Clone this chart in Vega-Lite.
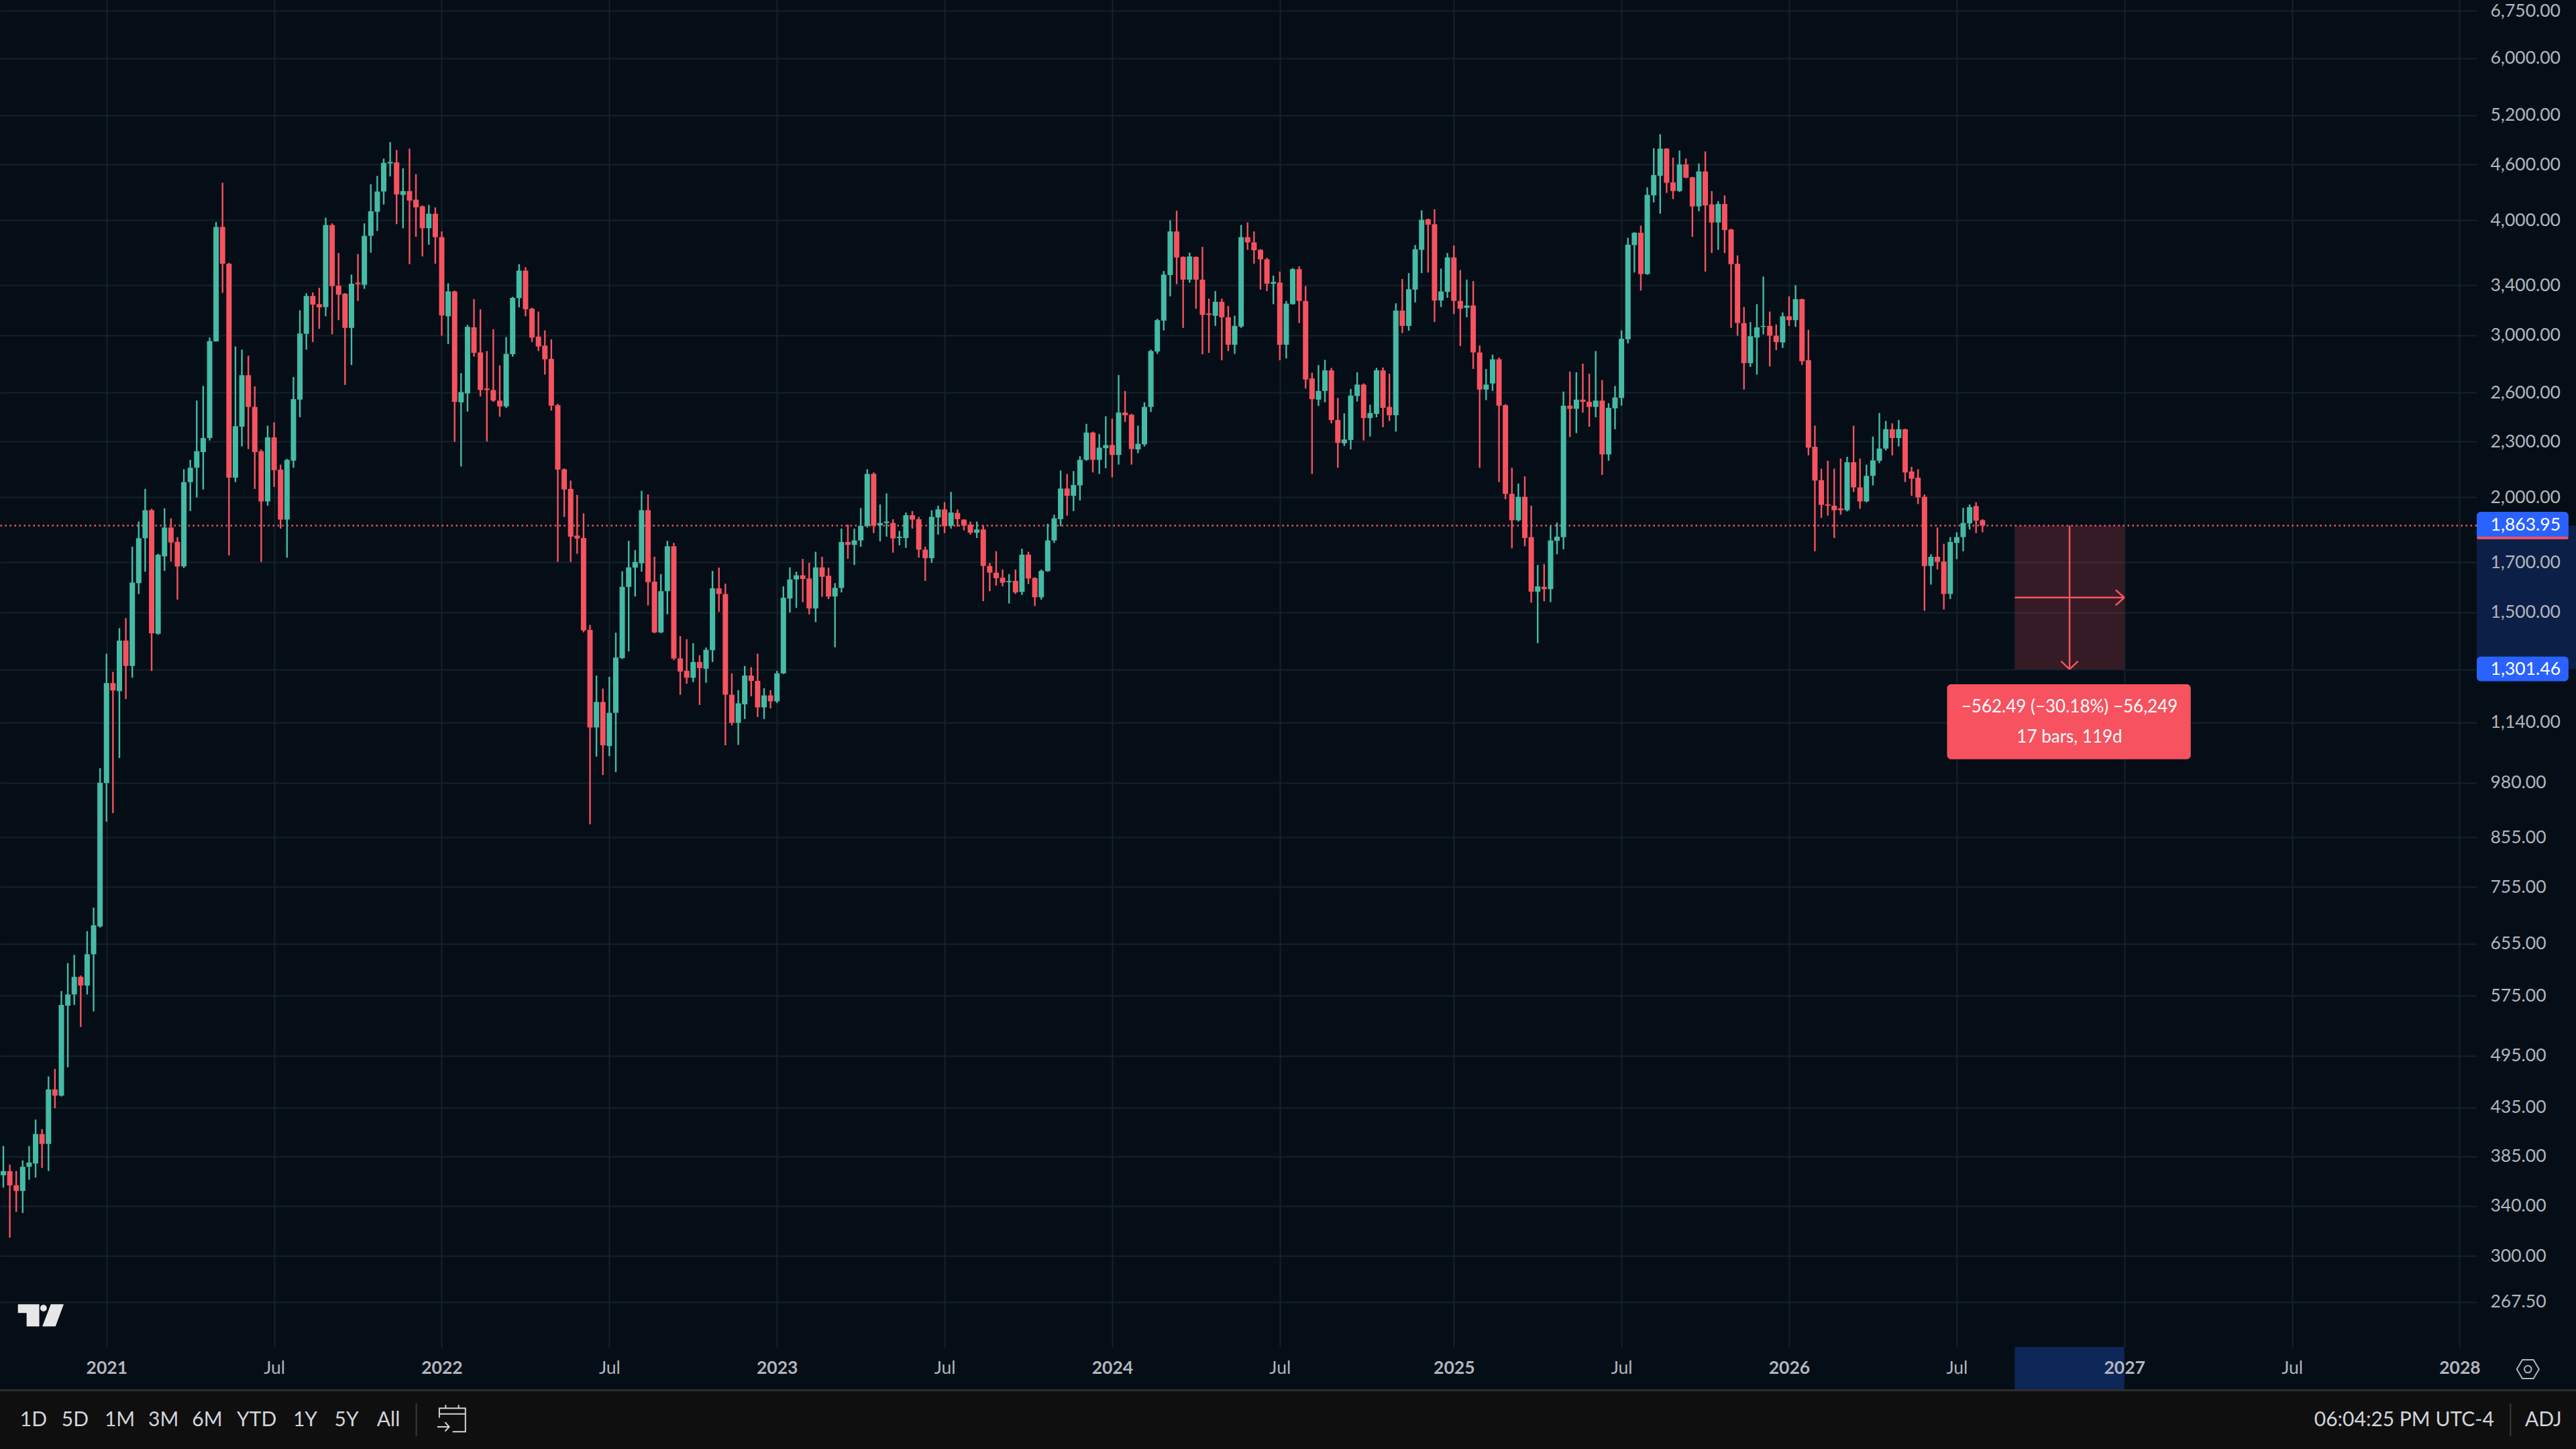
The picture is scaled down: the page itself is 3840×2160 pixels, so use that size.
{
"$schema":"https://vega.github.io/schema/vega-lite/v6.json",
"width":3692,"height":2008,
"autosize":{"type":"none"},
"padding":{"left":0,"top":0,"right":148,"bottom":152},
"background":"#050e17",
"config":{"view":{"stroke":null},"font":"Lato"},
"datasets":{
"candles":[
{"bar":0,"open":367,"high":395,"low":356,"close":371},
{"bar":1,"open":371,"high":377,"low":314,"close":358},
{"bar":2,"open":358,"high":371,"low":335,"close":353},
{"bar":3,"open":353,"high":381,"low":334,"close":375},
{"bar":4,"open":375,"high":395,"low":363,"close":379},
{"bar":5,"open":378,"high":422,"low":365,"close":407},
{"bar":6,"open":407,"high":412,"low":374,"close":397},
{"bar":7,"open":397,"high":470,"low":371,"close":455},
{"bar":8,"open":455,"high":479,"low":434,"close":448},
{"bar":9,"open":448,"high":582,"low":447,"close":562},
{"bar":10,"open":561,"high":624,"low":481,"close":577},
{"bar":11,"open":577,"high":637,"low":562,"close":603},
{"bar":12,"open":603,"high":605,"low":532,"close":590},
{"bar":13,"open":590,"high":676,"low":577,"close":638},
{"bar":14,"open":638,"high":717,"low":553,"close":686},
{"bar":15,"open":684,"high":1016,"low":682,"close":980},
{"bar":16,"open":979,"high":1353,"low":889,"close":1257},
{"bar":17,"open":1257,"high":1293,"low":908,"close":1234},
{"bar":18,"open":1232,"high":1442,"low":1042,"close":1398},
{"bar":19,"open":1398,"high":1479,"low":1208,"close":1312},
{"bar":20,"open":1312,"high":1768,"low":1274,"close":1616},
{"bar":21,"open":1614,"high":1883,"low":1571,"close":1806},
{"bar":22,"open":1806,"high":2043,"low":1661,"close":1937},
{"bar":23,"open":1937,"high":1944,"low":1296,"close":1424},
{"bar":24,"open":1422,"high":1737,"low":1419,"close":1733},
{"bar":25,"open":1726,"high":1946,"low":1664,"close":1855},
{"bar":26,"open":1855,"high":1898,"low":1704,"close":1787},
{"bar":27,"open":1790,"high":1811,"low":1549,"close":1683},
{"bar":28,"open":1683,"high":2146,"low":1676,"close":2078},
{"bar":29,"open":2078,"high":2197,"low":1933,"close":2154},
{"bar":30,"open":2154,"high":2548,"low":2000,"close":2245},
{"bar":31,"open":2240,"high":2643,"low":2040,"close":2320},
{"bar":32,"open":2320,"high":2983,"low":2306,"close":2957},
{"bar":33,"open":2954,"high":3982,"low":2954,"close":3934},
{"bar":34,"open":3934,"high":4393,"low":3336,"close":3588},
{"bar":35,"open":3588,"high":3597,"low":1730,"close":2101},
{"bar":36,"open":2101,"high":2917,"low":2078,"close":2390},
{"bar":37,"open":2387,"high":2894,"low":2272,"close":2715},
{"bar":38,"open":2715,"high":2851,"low":2257,"close":2508},
{"bar":39,"open":2508,"high":2640,"low":2043,"close":2240},
{"bar":40,"open":2245,"high":2255,"low":1702,"close":1980},
{"bar":41,"open":1980,"high":2393,"low":1959,"close":2324},
{"bar":42,"open":2324,"high":2413,"low":2053,"close":2141},
{"bar":43,"open":2144,"high":2171,"low":1850,"close":1892},
{"bar":44,"open":1892,"high":2202,"low":1720,"close":2197},
{"bar":45,"open":2192,"high":2703,"low":2154,"close":2557},
{"bar":46,"open":2554,"high":3194,"low":2444,"close":3013},
{"bar":47,"open":3011,"high":3333,"low":2894,"close":3310},
{"bar":48,"open":3310,"high":3340,"low":2950,"close":3239},
{"bar":49,"open":3243,"high":3378,"low":3049,"close":3217},
{"bar":50,"open":3220,"high":4025,"low":3146,"close":3952},
{"bar":51,"open":3952,"high":3969,"low":3007,"close":3393},
{"bar":52,"open":3396,"high":3685,"low":3116,"close":3321},
{"bar":53,"open":3329,"high":3333,"low":2650,"close":3056},
{"bar":54,"open":3056,"high":3492,"low":2785,"close":3413},
{"bar":55,"open":3422,"high":3676,"low":3269,"close":3409},
{"bar":56,"open":3404,"high":3969,"low":3370,"close":3847},
{"bar":57,"open":3847,"high":4378,"low":3689,"close":4091},
{"bar":58,"open":4086,"high":4469,"low":3895,"close":4298},
{"bar":59,"open":4298,"high":4667,"low":4161,"close":4617},
{"bar":60,"open":4611,"high":4863,"low":4464,"close":4628},
{"bar":61,"open":4622,"high":4768,"low":3961,"close":4267},
{"bar":62,"open":4262,"high":4555,"low":3921,"close":4303},
{"bar":63,"open":4303,"high":4785,"low":3584,"close":4202},
{"bar":64,"open":4212,"high":4489,"low":3838,"close":4131},
{"bar":65,"open":4141,"high":4151,"low":3654,"close":3921},
{"bar":66,"open":3921,"high":4156,"low":3763,"close":4066},
{"bar":67,"open":4066,"high":4131,"low":3588,"close":3834},
{"bar":68,"open":3834,"high":3890,"low":2997,"close":3153},
{"bar":69,"open":3146,"high":3417,"low":2934,"close":3348},
{"bar":70,"open":3348,"high":3355,"low":2298,"close":2540},
{"bar":71,"open":2537,"high":2729,"low":2161,"close":2603},
{"bar":72,"open":2594,"high":3079,"low":2479,"close":3064},
{"bar":73,"open":3060,"high":3284,"low":2844,"close":2871},
{"bar":74,"open":2874,"high":3202,"low":2574,"close":2616},
{"bar":75,"open":2626,"high":2884,"low":2300,"close":2616},
{"bar":76,"open":2616,"high":3045,"low":2540,"close":2548},
{"bar":77,"open":2548,"high":2782,"low":2447,"close":2511},
{"bar":78,"open":2511,"high":2987,"low":2502,"close":2864},
{"bar":79,"open":2861,"high":3303,"low":2844,"close":3295},
{"bar":80,"open":3292,"high":3584,"low":3217,"close":3527},
{"bar":81,"open":3527,"high":3558,"low":3146,"close":3202},
{"bar":82,"open":3206,"high":3213,"low":2950,"close":2983},
{"bar":83,"open":2990,"high":3183,"low":2884,"close":2917},
{"bar":84,"open":2924,"high":3037,"low":2719,"close":2825},
{"bar":85,"open":2828,"high":2970,"low":2485,"close":2516},
{"bar":86,"open":2519,"high":2528,"low":1702,"close":2144},
{"bar":87,"open":2146,"high":2150,"low":1905,"close":2040},
{"bar":88,"open":2043,"high":2086,"low":1702,"close":1813},
{"bar":89,"open":1818,"high":2013,"low":1737,"close":1805},
{"bar":90,"open":1807,"high":1922,"low":1427,"close":1434},
{"bar":91,"open":1436,"high":1454,"low":883,"close":1125},
{"bar":92,"open":1125,"high":1281,"low":1046,"close":1199},
{"bar":93,"open":1199,"high":1240,"low":999,"close":1076},
{"bar":94,"open":1074,"high":1277,"low":1047,"close":1167},
{"bar":95,"open":1167,"high":1426,"low":1006,"close":1340},
{"bar":96,"open":1338,"high":1663,"low":1335,"close":1599},
{"bar":97,"open":1599,"high":1794,"low":1361,"close":1679},
{"bar":98,"open":1678,"high":1753,"low":1561,"close":1702},
{"bar":99,"open":1696,"high":2033,"low":1661,"close":1937},
{"bar":100,"open":1937,"high":2015,"low":1526,"close":1618},
{"bar":101,"open":1620,"high":1724,"low":1424,"close":1427},
{"bar":102,"open":1427,"high":1651,"low":1424,"close":1582},
{"bar":103,"open":1582,"high":1794,"low":1493,"close":1770},
{"bar":104,"open":1770,"high":1785,"low":1331,"close":1337},
{"bar":105,"open":1337,"high":1414,"low":1221,"close":1294},
{"bar":106,"open":1296,"high":1403,"low":1255,"close":1274},
{"bar":107,"open":1274,"high":1389,"low":1260,"close":1325},
{"bar":108,"open":1325,"high":1348,"low":1190,"close":1305},
{"bar":109,"open":1303,"high":1374,"low":1258,"close":1366},
{"bar":110,"open":1365,"high":1664,"low":1325,"close":1593},
{"bar":111,"open":1593,"high":1678,"low":1502,"close":1571},
{"bar":112,"open":1571,"high":1612,"low":1076,"close":1221},
{"bar":113,"open":1221,"high":1288,"low":1131,"close":1138},
{"bar":114,"open":1138,"high":1235,"low":1077,"close":1195},
{"bar":115,"open":1192,"high":1312,"low":1149,"close":1281},
{"bar":116,"open":1281,"high":1308,"low":1216,"close":1264},
{"bar":117,"open":1264,"high":1353,"low":1155,"close":1183},
{"bar":118,"open":1183,"high":1241,"low":1149,"close":1219},
{"bar":119,"open":1219,"high":1235,"low":1180,"close":1201},
{"bar":120,"open":1201,"high":1296,"low":1196,"close":1288},
{"bar":121,"open":1288,"high":1601,"low":1286,"close":1556},
{"bar":122,"open":1553,"high":1679,"low":1500,"close":1629},
{"bar":123,"open":1629,"high":1661,"low":1517,"close":1646},
{"bar":124,"open":1646,"high":1715,"low":1539,"close":1631},
{"bar":125,"open":1633,"high":1698,"low":1493,"close":1515},
{"bar":126,"open":1515,"high":1746,"low":1464,"close":1679},
{"bar":127,"open":1679,"high":1724,"low":1560,"close":1640},
{"bar":128,"open":1644,"high":1678,"low":1551,"close":1561},
{"bar":129,"open":1561,"high":1614,"low":1375,"close":1595},
{"bar":130,"open":1595,"high":1850,"low":1577,"close":1789},
{"bar":131,"open":1789,"high":1868,"low":1716,"close":1776},
{"bar":132,"open":1776,"high":1850,"low":1689,"close":1796},
{"bar":133,"open":1796,"high":1948,"low":1768,"close":1863},
{"bar":134,"open":1863,"high":2146,"low":1855,"close":2121},
{"bar":135,"open":2121,"high":2129,"low":1829,"close":1863},
{"bar":136,"open":1865,"high":1965,"low":1792,"close":1876},
{"bar":137,"open":1876,"high":2020,"low":1813,"close":1883},
{"bar":138,"open":1876,"high":1894,"low":1742,"close":1805},
{"bar":139,"open":1807,"high":1839,"low":1774,"close":1813},
{"bar":140,"open":1807,"high":1926,"low":1763,"close":1913},
{"bar":141,"open":1913,"high":1933,"low":1850,"close":1892},
{"bar":142,"open":1894,"high":1905,"low":1720,"close":1755},
{"bar":143,"open":1755,"high":1768,"low":1623,"close":1718},
{"bar":144,"open":1718,"high":1937,"low":1698,"close":1905},
{"bar":145,"open":1902,"high":1959,"low":1822,"close":1941},
{"bar":146,"open":1941,"high":1976,"low":1829,"close":1861},
{"bar":147,"open":1863,"high":2028,"low":1850,"close":1926},
{"bar":148,"open":1924,"high":1941,"low":1859,"close":1894},
{"bar":149,"open":1892,"high":1894,"low":1842,"close":1863},
{"bar":150,"open":1868,"high":1883,"low":1822,"close":1831},
{"bar":151,"open":1831,"high":1883,"low":1807,"close":1846},
{"bar":152,"open":1846,"high":1865,"low":1543,"close":1685},
{"bar":153,"open":1685,"high":1698,"low":1582,"close":1657},
{"bar":154,"open":1657,"high":1748,"low":1604,"close":1634},
{"bar":155,"open":1636,"high":1670,"low":1601,"close":1616},
{"bar":156,"open":1618,"high":1651,"low":1534,"close":1623},
{"bar":157,"open":1623,"high":1670,"low":1571,"close":1577},
{"bar":158,"open":1579,"high":1759,"low":1567,"close":1733},
{"bar":159,"open":1733,"high":1746,"low":1610,"close":1633},
{"bar":160,"open":1635,"high":1638,"low":1524,"close":1558},
{"bar":161,"open":1558,"high":1670,"low":1549,"close":1664},
{"bar":162,"open":1663,"high":1872,"low":1661,"close":1796},
{"bar":163,"open":1796,"high":1915,"low":1785,"close":1898},
{"bar":164,"open":1894,"high":2139,"low":1861,"close":2045},
{"bar":165,"open":2045,"high":2121,"low":1911,"close":2008},
{"bar":166,"open":2008,"high":2136,"low":1933,"close":2063},
{"bar":167,"open":2061,"high":2217,"low":1985,"close":2197},
{"bar":168,"open":2197,"high":2404,"low":2192,"close":2352},
{"bar":169,"open":2352,"high":2358,"low":2129,"close":2197},
{"bar":170,"open":2197,"high":2343,"low":2121,"close":2265},
{"bar":171,"open":2262,"high":2450,"low":2151,"close":2280},
{"bar":172,"open":2280,"high":2436,"low":2103,"close":2224},
{"bar":173,"open":2224,"high":2716,"low":2171,"close":2473},
{"bar":174,"open":2473,"high":2610,"low":2416,"close":2456},
{"bar":175,"open":2459,"high":2465,"low":2171,"close":2257},
{"bar":176,"open":2255,"high":2393,"low":2234,"close":2287},
{"bar":177,"open":2284,"high":2537,"low":2272,"close":2508},
{"bar":178,"open":2508,"high":2894,"low":2476,"close":2884},
{"bar":179,"open":2881,"high":3127,"low":2864,"close":3116},
{"bar":180,"open":3112,"high":3523,"low":3037,"close":3492},
{"bar":181,"open":3488,"high":4000,"low":3307,"close":3890},
{"bar":182,"open":3890,"high":4096,"low":3409,"close":3645},
{"bar":183,"open":3650,"high":3654,"low":3056,"close":3448},
{"bar":184,"open":3448,"high":3689,"low":3422,"close":3654},
{"bar":185,"open":3650,"high":3654,"low":3206,"close":3448},
{"bar":186,"open":3448,"high":3742,"low":2861,"close":3157},
{"bar":187,"open":3168,"high":3288,"low":2871,"close":3157},
{"bar":188,"open":3150,"high":3351,"low":3071,"close":3262},
{"bar":189,"open":3262,"high":3288,"low":2818,"close":3138},
{"bar":190,"open":3138,"high":3228,"low":2884,"close":2930},
{"bar":191,"open":2930,"high":3150,"low":2864,"close":3071},
{"bar":192,"open":3067,"high":3952,"low":3056,"close":3834},
{"bar":193,"open":3834,"high":3978,"low":3715,"close":3785},
{"bar":194,"open":3785,"high":3890,"low":3588,"close":3711},
{"bar":195,"open":3715,"high":3720,"low":3363,"close":3628},
{"bar":196,"open":3628,"high":3641,"low":3351,"close":3413},
{"bar":197,"open":3413,"high":3483,"low":3243,"close":3428},
{"bar":198,"open":3422,"high":3518,"low":2818,"close":2930},
{"bar":199,"open":2930,"high":3269,"low":2831,"close":3247},
{"bar":200,"open":3243,"high":3549,"low":3239,"close":3540},
{"bar":201,"open":3540,"high":3566,"low":3093,"close":3269},
{"bar":202,"open":3269,"high":3393,"low":2626,"close":2686},
{"bar":203,"open":2693,"high":2732,"low":2121,"close":2557},
{"bar":204,"open":2554,"high":2785,"low":2514,"close":2610},
{"bar":205,"open":2610,"high":2821,"low":2537,"close":2748},
{"bar":206,"open":2748,"high":2765,"low":2407,"close":2427},
{"bar":207,"open":2427,"high":2565,"low":2154,"close":2292},
{"bar":208,"open":2290,"high":2468,"low":2275,"close":2312},
{"bar":209,"open":2309,"high":2623,"low":2255,"close":2580},
{"bar":210,"open":2577,"high":2735,"low":2542,"close":2652},
{"bar":211,"open":2652,"high":2660,"low":2306,"close":2439},
{"bar":212,"open":2439,"high":2522,"low":2329,"close":2470},
{"bar":213,"open":2465,"high":2765,"low":2444,"close":2748},
{"bar":214,"open":2748,"high":2768,"low":2384,"close":2502},
{"bar":215,"open":2508,"high":2725,"low":2421,"close":2456},
{"bar":216,"open":2456,"high":3250,"low":2358,"close":3191},
{"bar":217,"open":3191,"high":3453,"low":3017,"close":3071},
{"bar":218,"open":3071,"high":3505,"low":3034,"close":3366},
{"bar":219,"open":3363,"high":3759,"low":3258,"close":3720},
{"bar":220,"open":3715,"high":4101,"low":3505,"close":4005},
{"bar":221,"open":4010,"high":4016,"low":3510,"close":3956},
{"bar":222,"open":3961,"high":4111,"low":3101,"close":3273},
{"bar":223,"open":3273,"high":3545,"low":3220,"close":3348},
{"bar":224,"open":3344,"high":3685,"low":3295,"close":3645},
{"bar":225,"open":3645,"high":3755,"low":3164,"close":3269},
{"bar":226,"open":3269,"high":3531,"low":2921,"close":3206},
{"bar":227,"open":3213,"high":3448,"low":3138,"close":3232},
{"bar":228,"open":3232,"high":3435,"low":2758,"close":2874},
{"bar":229,"open":2874,"high":2924,"low":2154,"close":2619},
{"bar":230,"open":2619,"high":2758,"low":2551,"close":2652},
{"bar":231,"open":2659,"high":2858,"low":2610,"close":2825},
{"bar":232,"open":2825,"high":2838,"low":2078,"close":2516},
{"bar":233,"open":2519,"high":2525,"low":1991,"close":2018},
{"bar":234,"open":2018,"high":2154,"low":1761,"close":1889},
{"bar":235,"open":1889,"high":2071,"low":1883,"close":2003},
{"bar":236,"open":2003,"high":2108,"low":1770,"close":1807},
{"bar":237,"open":1811,"high":1959,"low":1537,"close":1580},
{"bar":238,"open":1580,"high":1689,"low":1389,"close":1601},
{"bar":239,"open":1599,"high":1693,"low":1543,"close":1590},
{"bar":240,"open":1590,"high":1861,"low":1539,"close":1796},
{"bar":241,"open":1794,"high":1878,"low":1735,"close":1813},
{"bar":242,"open":1811,"high":2606,"low":1757,"close":2516},
{"bar":243,"open":2516,"high":2739,"low":2326,"close":2496},
{"bar":244,"open":2496,"high":2735,"low":2349,"close":2554},
{"bar":245,"open":2554,"high":2795,"low":2473,"close":2540},
{"bar":246,"open":2540,"high":2725,"low":2387,"close":2508},
{"bar":247,"open":2508,"high":2884,"low":2444,"close":2548},
{"bar":248,"open":2548,"high":2682,"low":2116,"close":2227},
{"bar":249,"open":2227,"high":2531,"low":2192,"close":2502},
{"bar":250,"open":2499,"high":2643,"low":2372,"close":2568},
{"bar":251,"open":2565,"high":3037,"low":2516,"close":2974},
{"bar":252,"open":2970,"high":3829,"low":2940,"close":3763},
{"bar":253,"open":3759,"high":3882,"low":3510,"close":3877},
{"bar":254,"open":3877,"high":3947,"low":3355,"close":3496},
{"bar":255,"open":3496,"high":4343,"low":3490,"close":4262},
{"bar":256,"open":4257,"high":4790,"low":4182,"close":4479},
{"bar":257,"open":4469,"high":4960,"low":4066,"close":4785},
{"bar":258,"open":4785,"high":4790,"low":4283,"close":4393},
{"bar":259,"open":4398,"high":4678,"low":4217,"close":4303},
{"bar":260,"open":4303,"high":4762,"low":4293,"close":4600},
{"bar":261,"open":4600,"high":4667,"low":4444,"close":4449},
{"bar":262,"open":4454,"high":4459,"low":3838,"close":4141},
{"bar":263,"open":4141,"high":4611,"low":4091,"close":4519},
{"bar":264,"open":4519,"high":4751,"low":3518,"close":4151},
{"bar":265,"open":4161,"high":4303,"low":3685,"close":3978},
{"bar":266,"open":3978,"high":4197,"low":3715,"close":4166},
{"bar":267,"open":4166,"high":4257,"low":3685,"close":3904},
{"bar":268,"open":3908,"high":3917,"low":3056,"close":3584},
{"bar":269,"open":3588,"high":3663,"low":2997,"close":3093},
{"bar":270,"open":3093,"high":3220,"low":2619,"close":2798},
{"bar":271,"open":2798,"high":3101,"low":2772,"close":2993},
{"bar":272,"open":2983,"high":3243,"low":2719,"close":3060},
{"bar":273,"open":3064,"high":3474,"low":3007,"close":3071},
{"bar":274,"open":3071,"high":3183,"low":2775,"close":2997},
{"bar":275,"open":2997,"high":3082,"low":2891,"close":2950},
{"bar":276,"open":2947,"high":3176,"low":2907,"close":3146},
{"bar":277,"open":3146,"high":3307,"low":3071,"close":3116},
{"bar":278,"open":3116,"high":3400,"low":3064,"close":3284},
{"bar":279,"open":3284,"high":3288,"low":2785,"close":2811},
{"bar":280,"open":2818,"high":3041,"low":2222,"close":2265},
{"bar":281,"open":2270,"high":2393,"low":1748,"close":2086},
{"bar":282,"open":2088,"high":2149,"low":1900,"close":1963},
{"bar":283,"open":1965,"high":2192,"low":1911,"close":1959},
{"bar":284,"open":1959,"high":2149,"low":1807,"close":1937},
{"bar":285,"open":1946,"high":2204,"low":1915,"close":1937},
{"bar":286,"open":1937,"high":2214,"low":1931,"close":2184},
{"bar":287,"open":2184,"high":2393,"low":2028,"close":2051},
{"bar":288,"open":2051,"high":2204,"low":1944,"close":1980},
{"bar":289,"open":1980,"high":2171,"low":1976,"close":2111},
{"bar":290,"open":2111,"high":2329,"low":2061,"close":2194},
{"bar":291,"open":2192,"high":2470,"low":2179,"close":2260},
{"bar":292,"open":2260,"high":2421,"low":2250,"close":2372},
{"bar":293,"open":2372,"high":2407,"low":2222,"close":2320},
{"bar":294,"open":2320,"high":2427,"low":2272,"close":2372},
{"bar":295,"open":2372,"high":2375,"low":2078,"close":2129},
{"bar":296,"open":2134,"high":2159,"low":2008,"close":2096},
{"bar":297,"open":2101,"high":2146,"low":1967,"close":2000},
{"bar":298,"open":2003,"high":2015,"low":1506,"close":1685},
{"bar":299,"open":1685,"high":1735,"low":1608,"close":1724},
{"bar":300,"open":1724,"high":1855,"low":1670,"close":1702},
{"bar":301,"open":1704,"high":1781,"low":1511,"close":1571},
{"bar":302,"open":1571,"high":1811,"low":1551,"close":1789},
{"bar":303,"open":1785,"high":1833,"low":1714,"close":1811},
{"bar":304,"open":1811,"high":1948,"low":1748,"close":1876},
{"bar":305,"open":1874,"high":1965,"low":1846,"close":1952},
{"bar":306,"open":1957,"high":1976,"low":1829,"close":1887},
{"bar":307,"open":1889,"high":1894,"low":1833,"close":1863.95}
],
"panels":[
{"part":"toolbar","x0":-0.52,"x1":399.06,"p0":213.9,"p1":185},
{"part":"separator","x0":-0.52,"x1":399.06,"p0":214.9,"p1":213.9},
{"part":"price band","x0":383.66,"x1":399.06,"p0":1863.95,"p1":1301.46},
{"part":"time band","x0":312,"x1":329,"p0":238.9,"p1":214.9},
{"part":"measure","x0":312,"x1":329,"p0":1863.95,"p1":1301.46}
],
"tags":[
{"part":"price","x0":383.66,"x1":397.9,"p0":1929,"p1":1802},
{"part":"strip","x0":383.66,"x1":397.9,"p0":1813,"p1":1802},
{"part":"price","x0":383.66,"x1":397.9,"p0":1343,"p1":1263},
{"part":"label","x0":301.5,"x1":339.3,"p0":1253.4,"p1":1039}
],
"last":[{"price":1863.95}],
"arrows":[
{"x0":320.5,"x1":320.5,"p0":1863.95,"p1":1301.46},
{"x0":319.19,"x1":320.5,"p0":1328,"p1":1301.46},
{"x0":321.81,"x1":320.5,"p0":1328,"p1":1301.46},
{"x0":312,"x1":329,"p0":1557,"p1":1557},
{"x0":327.65,"x1":329,"p0":1587,"p1":1557},
{"x0":327.65,"x1":329,"p0":1527,"p1":1557}
],
"dividers":[
{"x0":64.05,"p0":207.5,"p1":191.1},
{"x0":388.9,"p0":207.5,"p1":191.1}
]
},
"layer":[
{
"data":{"name":"panels"},
"mark":{"type":"rect"},
"encoding":{
"x":{"field":"x0","type":"quantitative","scale":{"domain":[-0.52,383.66],"nice":false,"zero":false,"padding":0},
"axis":{"orient":"bottom","grid":true,"gridColor":"#16212b","gridWidth":2,"labels":false,"ticks":false,"domain":false,"title":null,"values":[16,42,68,94,120,146,172,198,225,251,277,303,329,355,381]}},
"x2":{"field":"x1"},
"y":{"field":"p0","type":"quantitative","scale":{"type":"log","domain":[238.9,6939],"nice":false},
"axis":{"orient":"right","grid":true,"gridColor":"#16212b","gridWidth":2,"labels":false,"ticks":false,"domain":false,"title":null,"values":[6750,6000,5200,4600,4000,3400,3000,2600,2300,2000,1700,1500,1300,1140,980,855,755,655,575,495,435,385,340,300,267.5]}},
"y2":{"field":"p1"},
"color":{"field":"part","type":"nominal","legend":null,"scale":{"domain":["toolbar","separator","price band","time band","measure"],"range":["#0f0f0f","#2e2e2e","#0c1f46","#0e2759","rgba(247,82,95,0.2)"]}}
}
},
{
"data":{"name":"last"},
"mark":{"type":"rule","color":"#f7525f","strokeWidth":2.5,"strokeDash":[2.5,4.5]},
"encoding":{
"y":{"field":"price","type":"quantitative","scale":{"type":"log","domain":[238.9,6939],"nice":false},"axis":null}
}
},
{
"data":{"name":"candles"},
"mark":{"type":"rule","strokeWidth":2.4},
"encoding":{
"x":{"field":"bar","type":"quantitative","scale":{"domain":[-0.52,383.66],"nice":false,"zero":false,"padding":0},"axis":null},
"y":{"field":"low","type":"quantitative","scale":{"type":"log","domain":[238.9,6939],"nice":false},"axis":null},
"y2":{"field":"high"},
"color":{"condition":{"test":"datum.close>=datum.open","value":"#45bba5"},"value":"#f7525f"}
}
},
{
"data":{"name":"candles"},
"mark":{"type":"bar","orient":"vertical","size":8},
"encoding":{
"x":{"field":"bar","type":"quantitative","scale":{"domain":[-0.52,383.66],"nice":false,"zero":false,"padding":0},"axis":null},
"y":{"field":"open","type":"quantitative","scale":{"type":"log","domain":[238.9,6939],"nice":false},"axis":null},
"y2":{"field":"close"},
"color":{"condition":{"test":"datum.close>=datum.open","value":"#45bba5"},"value":"#f7525f"}
}
},
{
"data":{"name":"arrows"},
"mark":{"type":"rule","color":"#f7525f","strokeWidth":2.5},
"encoding":{
"x":{"field":"x0","type":"quantitative","scale":{"domain":[-0.52,383.66],"nice":false,"zero":false,"padding":0},"axis":null},
"x2":{"field":"x1"},
"y":{"field":"p0","type":"quantitative","scale":{"type":"log","domain":[238.9,6939],"nice":false},"axis":null},
"y2":{"field":"p1"}
}
},
{
"data":{"name":"tags"},
"mark":{"type":"rect","cornerRadius":6},
"encoding":{
"x":{"field":"x0","type":"quantitative","scale":{"domain":[-0.52,383.66],"nice":false,"zero":false,"padding":0},"axis":null},
"x2":{"field":"x1"},
"y":{"field":"p0","type":"quantitative","scale":{"type":"log","domain":[238.9,6939],"nice":false},"axis":null},
"y2":{"field":"p1"},
"color":{"field":"part","type":"nominal","legend":null,"scale":{"domain":["price","strip","label"],"range":["#2962ff","#f7525f","#f7525f"]}}
}
},
{
"data":{"name":"dividers"},
"mark":{"type":"rule","color":"#3a3a3a","strokeWidth":2},
"encoding":{
"x":{"field":"x0","type":"quantitative","scale":{"domain":[-0.52,383.66],"nice":false,"zero":false,"padding":0},"axis":null},
"y":{"field":"p0","type":"quantitative","scale":{"type":"log","domain":[238.9,6939],"nice":false},"axis":null},
"y2":{"field":"p1"}
}
},
{
"data":{"values":[{"label":"1,863.95","bar":385.8,"price":1863.95},{"label":"1,301.46","bar":385.8,"price":1301.46}]},
"mark":{"type":"text","align":"left","baseline":"middle","color":"#ffffff","fontSize":26.5,"font":"Lato"},
"encoding":{
"x":{"field":"bar","type":"quantitative","scale":{"domain":[-0.52,383.66],"nice":false,"zero":false,"padding":0},"axis":null},
"y":{"field":"price","type":"quantitative","scale":{"type":"log","domain":[238.9,6939],"nice":false},"axis":null},
"text":{"field":"label"}
}
},
{
"data":{"values":[{"label":"−562.49 (−30.18%) −56,249","bar":320.5,"price":1183.6},{"label":"17 bars, 119d","bar":320.5,"price":1097.6}]},
"mark":{"type":"text","align":"center","baseline":"middle","color":"#ffffff","fontSize":26,"font":"Lato"},
"encoding":{
"x":{"field":"bar","type":"quantitative","scale":{"domain":[-0.52,383.66],"nice":false,"zero":false,"padding":0},"axis":null},
"y":{"field":"price","type":"quantitative","scale":{"type":"log","domain":[238.9,6939],"nice":false},"axis":null},
"text":{"field":"label"}
}
},
{
"data":{"values":[{"icon":"logo","bar":5.83,"price":258.9}]},
"mark":{"type":"point","filled":true,"opacity":1,"color":"#e6e6e6","size":4900,"shape":"M-0.98 -0.45 H-0.07 V0.49 H-0.61 V-0.08 H-0.98 Z M-0.03 -0.29 A0.14 0.14 0 1 0 0.25 -0.29 A0.14 0.14 0 1 0 -0.03 -0.29 Z M0.42 -0.45 H0.97 L0.62 0.49 H0.06 Z"},
"encoding":{
"x":{"field":"bar","type":"quantitative","scale":{"domain":[-0.52,383.66],"nice":false,"zero":false,"padding":0},"axis":null},
"y":{"field":"price","type":"quantitative","scale":{"type":"log","domain":[238.9,6939],"nice":false},"axis":null}
}
},
{
"data":{"values":[{"icon":"calendar","bar":69.5,"price":199.9}]},
"mark":{"type":"point","filled":false,"opacity":1,"color":"#d1d4dc","strokeWidth":2,"size":1936,"shape":"M-0.82 -0.03 V-0.68 H0.95 V0.91 H0.08 M-0.82 -0.3 H0.95 M-0.39 -0.91 V-0.64 M0.49 -0.91 V-0.64 M-0.96 0.58 H-0.15 M-0.43 0.27 L-0.15 0.58 L-0.43 0.88"},
"encoding":{
"x":{"field":"bar","type":"quantitative","scale":{"domain":[-0.52,383.66],"nice":false,"zero":false,"padding":0},"axis":null},
"y":{"field":"price","type":"quantitative","scale":{"type":"log","domain":[238.9,6939],"nice":false},"axis":null}
}
},
{
"data":{"values":[{"icon":"settings","bar":391.6,"price":226}]},
"mark":{"type":"point","filled":false,"opacity":1,"color":"#b2b5be","strokeWidth":2,"size":1089,"shape":"M-1 0 L-0.5 -0.85 H0.5 L1 0 L0.5 0.85 H-0.5 Z M0.32 0 A0.32 0.32 0 1 1 -0.32 0 A0.32 0.32 0 1 1 0.32 0 Z"},
"encoding":{
"x":{"field":"bar","type":"quantitative","scale":{"domain":[-0.52,383.66],"nice":false,"zero":false,"padding":0},"axis":null},
"y":{"field":"price","type":"quantitative","scale":{"type":"log","domain":[238.9,6939],"nice":false},"axis":null}
}
},
{
"data":{"values":[
{"label":"1D","bar":4.68,"price":199},
{"label":"5D","bar":11.13,"price":199},
{"label":"1M","bar":18.06,"price":199},
{"label":"3M","bar":24.83,"price":199},
{"label":"6M","bar":31.63,"price":199},
{"label":"YTD","bar":39.29,"price":199},
{"label":"1Y","bar":46.83,"price":199},
{"label":"5Y","bar":53.24,"price":199},
{"label":"All","bar":59.73,"price":199},
{"label":"06:04:25 PM UTC-4","bar":372.4,"price":199},
{"label":"ADJ","bar":394,"price":199}
]},
"mark":{"type":"text","align":"center","baseline":"middle","color":"#d1d4dc","fontSize":30,"font":"Lato"},
"encoding":{
"x":{"field":"bar","type":"quantitative","scale":{"domain":[-0.52,383.66],"nice":false,"zero":false,"padding":0},
"axis":{"orient":"bottom","grid":false,"domain":false,"ticks":false,"tickSize":0,"title":null,"labelColor":"#b2b5be","labelFont":"Lato","labelFontSize":26.5,"labelPadding":18,"labelOverlap":false,"labelFlush":false,"labelFontWeight":{"condition":{"test":"indexof([42,94,146,198,251,303,355],datum.value)>=0","value":"normal"},"value":"bold"},"zindex":1,"values":[16,42,68,94,120,146,172,198,225,251,277,303,329,355,381],"labelExpr":"{'16':'2021','42':'Jul','68':'2022','94':'Jul','120':'2023','146':'Jul','172':'2024','198':'Jul','225':'2025','251':'Jul','277':'2026','303':'Jul','329':'2027','355':'Jul','381':'2028'}[datum.value]"}},
"y":{"field":"price","type":"quantitative","scale":{"type":"log","domain":[238.9,6939],"nice":false},
"axis":{"orient":"right","grid":false,"domain":false,"ticks":false,"tickSize":0,"title":null,"labelColor":"#b2b5be","labelFont":"Lato","labelFontSize":26.5,"labelPadding":20,"labelAlign":"left","labelOverlap":false,"labelFlush":false,"zindex":1,"values":[6750,6000,5200,4600,4000,3400,3000,2600,2300,2000,1700,1500,1300,1140,980,855,755,655,575,495,435,385,340,300,267.5],"labelExpr":"datum.value==1300?'':format(datum.value,',.2f')"}},
"text":{"field":"label"}
}
}
],
"resolve":{"axis":{"x":"independent","y":"independent"},"scale":{"color":"independent"}}
}
